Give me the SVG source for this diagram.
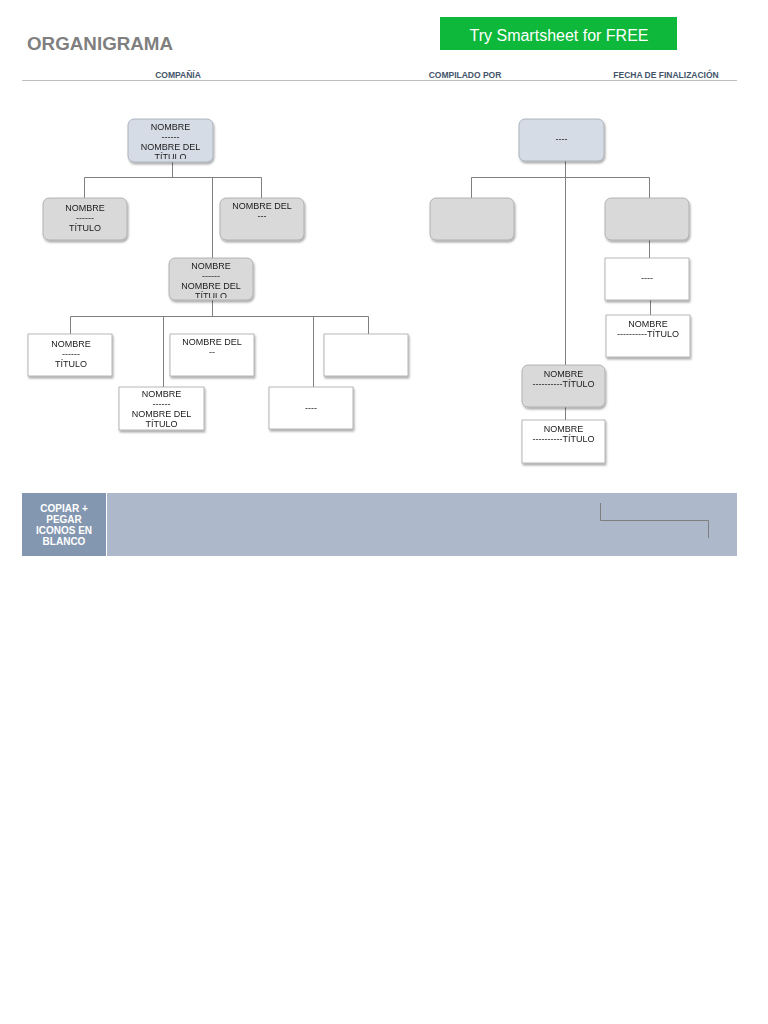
<svg xmlns="http://www.w3.org/2000/svg" width="768" height="1024" viewBox="0 0 768 1024">
<style>
.t{font-family:"Liberation Sans",Arial,sans-serif;font-size:9px;fill:#1a1a1a;text-anchor:middle}
.h{font-family:"Liberation Sans",Arial,sans-serif;font-size:8.5px;font-weight:bold;fill:#44546A;text-anchor:middle}
.blue{fill:#D6DCE5;stroke:#A0A7B2;stroke-width:0.8}
.gray{fill:#D9D9D9;stroke:#A6A6A6;stroke-width:0.8}
.white{fill:#FFFFFF;stroke:#A6A6A6;stroke-width:0.8}
.c{stroke:#7F7F7F;stroke-width:1;fill:none}
</style>
<defs>
<filter id="sh" x="-10%" y="-10%" width="130%" height="140%">
<feDropShadow dx="1" dy="2" stdDeviation="1.2" flood-color="#000" flood-opacity="0.35"/>
</filter>
<clipPath id="clipA"><rect x="128" y="119" width="85" height="40"/></clipPath>
<clipPath id="clipB"><rect x="169" y="258" width="85" height="40"/></clipPath>
</defs>
<rect width="768" height="1024" fill="#FFFFFF"/>
<text x="27" y="50" font-family="Liberation Sans,Arial,sans-serif" font-size="18.8" font-weight="bold" fill="#7F7F7F">ORGANIGRAMA</text>
<rect x="440" y="17" width="237" height="33" fill="#0DB83A"/>
<text x="559" y="41" font-family="Liberation Sans,Arial,sans-serif" font-size="16" fill="#FFFFFF" text-anchor="middle">Try Smartsheet for FREE</text>
<text class="h" x="178" y="78">COMPAÑÍA</text>
<text class="h" x="465" y="78">COMPILADO POR</text>
<text class="h" x="666" y="78">FECHA DE FINALIZACIÓN</text>
<line x1="22" y1="80.5" x2="737" y2="80.5" stroke="#BFBFBF" stroke-width="1"/>
<g id="connectors">
<path class="c" d="M172.5 162V177.5M84.5 198V177.5H261.5V198M212.5 177.5V258"/>
<path class="c" d="M212.5 300V316.5M70.5 334V316.5H368.5V334M163.5 316.5V387M313.5 316.5V387"/>
<path class="c" d="M565.5 161V365M471.5 198V177.5H649.5V198M649.5 240V258M650.5 300V315M565.5 407V420"/>
</g>
<g id="n1" filter="url(#sh)"><rect class="blue" x="128" y="119" width="85" height="43" rx="6"/>
<g clip-path="url(#clipA)"><text class="t" x="170.5" y="130">NOMBRE</text><text class="t" x="170.5" y="140">------</text><text class="t" x="170.5" y="150">NOMBRE DEL</text><text class="t" x="170.5" y="160">TÍTULO</text></g></g>
<g id="n2" filter="url(#sh)"><rect class="gray" x="43" y="198" width="84" height="42" rx="6"/>
<text class="t" x="85" y="211">NOMBRE</text><text class="t" x="85" y="221">------</text><text class="t" x="85" y="231">TÍTULO</text></g>
<g id="n3" filter="url(#sh)"><rect class="gray" x="220" y="198" width="84" height="42" rx="6"/>
<text class="t" x="262" y="209">NOMBRE DEL</text><text class="t" x="262" y="219">---</text></g>
<g id="n4" filter="url(#sh)"><rect class="gray" x="169" y="258" width="84" height="42" rx="6"/>
<g clip-path="url(#clipB)"><text class="t" x="211" y="269">NOMBRE</text><text class="t" x="211" y="279">------</text><text class="t" x="211" y="289">NOMBRE DEL</text><text class="t" x="211" y="299">TÍTULO</text></g></g>
<g id="n5" filter="url(#sh)"><rect class="white" x="28" y="334" width="84" height="42"/>
<text class="t" x="71" y="347">NOMBRE</text><text class="t" x="71" y="357">------</text><text class="t" x="71" y="367">TÍTULO</text></g>
<g id="n6" filter="url(#sh)"><rect class="white" x="170" y="334" width="84" height="42"/>
<text class="t" x="212" y="345">NOMBRE DEL</text><text class="t" x="212" y="355">--</text></g>
<g id="n7" filter="url(#sh)"><rect class="white" x="324" y="334" width="84" height="42"/></g>
<g id="n8" filter="url(#sh)"><rect class="white" x="119" y="387" width="85" height="43"/>
<text class="t" x="161.5" y="397">NOMBRE</text><text class="t" x="161.5" y="407">------</text><text class="t" x="161.5" y="417">NOMBRE DEL</text><text class="t" x="161.5" y="427">TÍTULO</text></g>
<g id="n9" filter="url(#sh)"><rect class="white" x="269" y="387" width="84" height="42"/>
<text class="t" x="311" y="411">----</text></g>
<g id="r1" filter="url(#sh)"><rect class="blue" x="519" y="119" width="85" height="42" rx="6"/>
<text class="t" x="561.5" y="142">----</text></g>
<g id="r2" filter="url(#sh)"><rect class="gray" x="430" y="198" width="84" height="42" rx="6"/></g>
<g id="r3" filter="url(#sh)"><rect class="gray" x="605" y="198" width="84" height="42" rx="6"/></g>
<g id="r4" filter="url(#sh)"><rect class="white" x="605" y="258" width="84" height="42"/>
<text class="t" x="647" y="281">----</text></g>
<g id="r5" filter="url(#sh)"><rect class="white" x="606" y="315" width="84" height="42"/>
<text class="t" x="648" y="327">NOMBRE</text><text class="t" x="648" y="337">----------TÍTULO</text></g>
<g id="r6" filter="url(#sh)"><rect class="gray" x="522" y="365" width="83" height="42" rx="6"/>
<text class="t" x="563.5" y="377">NOMBRE</text><text class="t" x="563.5" y="387">----------TÍTULO</text></g>
<g id="r7" filter="url(#sh)"><rect class="white" x="522" y="420" width="83" height="43"/>
<text class="t" x="563.5" y="432">NOMBRE</text><text class="t" x="563.5" y="442">----------TÍTULO</text></g>
<g id="band">
<rect x="22" y="493" width="715" height="63" fill="#ADB9CA"/>
<rect x="22" y="493" width="84" height="63" fill="#8497B0"/>
<line x1="106.5" y1="493" x2="106.5" y2="556" stroke="#FFFFFF" stroke-width="1"/>
<g font-family="Liberation Sans,Arial,sans-serif" font-size="10" font-weight="bold" fill="#FFFFFF" text-anchor="middle">
<text x="64" y="512">COPIAR +</text><text x="64" y="523">PEGAR</text><text x="64" y="534">ICONOS EN</text><text x="64" y="545">BLANCO</text></g>
<path class="c" d="M600.5 503V520.5H708.5V538"/>
</g>
</svg>
